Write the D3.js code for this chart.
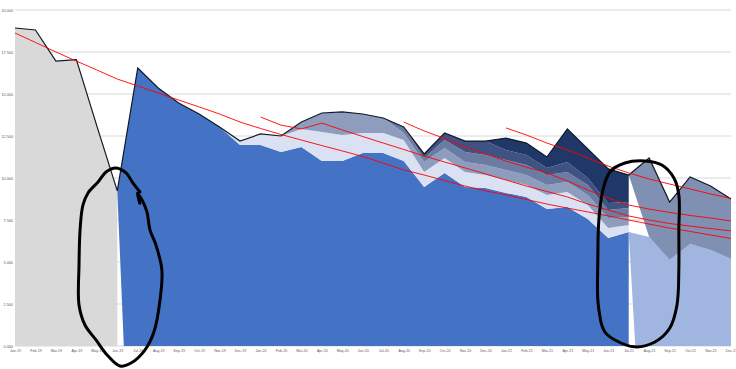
<!DOCTYPE html>
<html><head><meta charset="utf-8">
<script src="https://cdn.jsdelivr.net/npm/d3@7/dist/d3.min.js"></script>
<style>html,body{margin:0;padding:0;background:#fff}svg{display:block}</style>
</head><body>
<svg id="c" width="736" height="369"></svg>
<script>
const months = ["Jan-19","Feb-19","Mar-19","Apr-19","May-19","Jun-19","Jul-19","Aug-19","Sep-19","Oct-19","Nov-19","Dec-19",
"Jan-20","Feb-20","Mar-20","Apr-20","May-20","Jun-20","Jul-20","Aug-20","Sep-20","Oct-20","Nov-20","Dec-20",
"Jan-21","Feb-21","Mar-21","Apr-21","May-21","Jun-21","Jul-21","Aug-21","Sep-21","Oct-21","Nov-21","Dec-21"];
const yTicks = [0,2.5,5,7.5,10,12.5,15,17.5,20];
const yTickLabels = ["0.000","2.500","5.000","7.500","10.000","12.500","15.000","17.500","20.000"];

// legacy period (gray), months 0..5
const legacy = [18.93,18.81,16.96,17.05,13.1,9.23];
// cohort layers, months 6..30 (index offset 6)
const cohort1 = [16.55,15.36,14.46,13.81,13.04,11.96,11.96,11.55,11.85,11.01,11.01,11.49,11.49,11.01,9.46,10.3,9.46,9.40,9.11,8.87,8.15,8.27,7.56,6.43,6.79];
const cohort2 = [0,0,0,0,0,0.24,0.66,0.95,1.07,1.73,1.55,1.19,1.19,1.25,0.9,0.89,0.9,0.78,0.77,0.71,0.84,0.9,0.83,0.59,0.41];
const cohort3 = [0,0,0,0,0,0,0,0,0.41,1.13,1.37,1.13,0.89,0.42,0.59,0.6,0.59,0.59,0.6,0.6,0.59,0.59,0.6,0.6,0.48];
const cohort4 = [0,0,0,0,0,0,0,0,0,0,0,0,0,0.36,0.24,0.47,0.6,0.6,0.59,0.59,0.6,0.6,0.59,0.48,0.53];
const cohort5 = [0,0,0,0,0,0,0,0,0,0,0,0,0,0,0.24,0.42,0.65,0.83,0.6,0.6,0.42,0.59,0.42,0.41,0.36];
const cohort6 = [0,0,0,0,0,0,0,0,0,0,0,0,0,0,0,0,0,0,0.71,0.71,0.65,1.97,1.73,2.03,1.61];
const cohortStart = [6,10,13,18,19,23];
// outlook period, months 30..35
const outlookBase = [6.79,6.49,5.12,6.07,5.71,5.18];
const outlookTop = [0,4.70,3.45,3.99,3.81,3.57];

// trend lines
const trend1 = [18.63,18.07,17.5,16.96,16.43,15.89,15.48,15.06,14.64,14.23,13.81,13.33,12.95,12.59,12.26,11.93,11.61,11.28,10.89,10.48,10.18,9.85,9.52,9.23,8.99,8.72,8.45,8.21,7.98,7.74,7.5,7.26,7.02,6.82,6.61,6.4];
const trend2 = [13.63,13.15,12.92,13.27,12.86,12.47,12.08,11.7,11.31,10.95,10.6,10.24,9.88,9.52,9.2,8.87,8.45,8.1,7.74,7.5,7.29,7.14,6.99,6.85]; // from 12
const trend3 = [13.33,12.8,12.35,11.85,11.43,11.01,10.65,10.3,9.82,9.29,8.81,8.39,8.15,7.95,7.77,7.62,7.44]; // from 19
const trend4 = [12.98,12.56,12.08,11.67,11.19,10.71,10.3,9.94,9.64,9.35,9.05,8.78]; // from 24

// hand-drawn annotation loops (month index, value)
const loop1 = [[6.11,9.17],[5.77,9.70],[5.43,10.30],[4.94,10.60],[4.45,10.36],[4.06,9.76],[3.57,9.11],[3.32,8.39],[3.18,6.90],[3.13,4.82],[3.13,2.44],[3.42,1.25],[3.96,0.36],[4.55,-0.60],[5.13,-1.19],[5.67,-1.01],[6.35,-0.24],[6.79,0.83],[7.09,2.74],[7.18,4.52],[6.89,6.01],[6.60,6.90],[6.45,7.98],[6.21,8.69],[5.98,9.1],[6.1,8.5]];
const loop2 = [[28.64,1.43],[28.49,2.74],[28.49,5.12],[28.54,7.5],[28.74,9.29],[29.08,10.36],[29.81,10.89],[30.79,11.01],[31.62,10.77],[32.21,10.0],[32.45,8.99],[32.45,6.90],[32.45,4.52],[32.36,2.44],[32.01,1.07],[31.28,0.24],[30.3,-0.05],[29.33,0.36],[28.84,0.83],[28.64,1.43]];

const colors = ["#4472c4","#d9e1f2","#8e9dbd","#6a7ca3","#3e5383","#1f3868"];
const gap = 0.32; // bottom offset of the period boundaries (in month units)

const svg = d3.select("#c");
const L=15, R=731, T=10, B=346;
const x = d3.scalePoint().domain(months).range([L,R]);
const xi = d3.scaleLinear().domain([0,35]).range([L,R]);
const y = d3.scaleLinear().domain([0,20]).range([B,T]);
const font = "Liberation Sans, Arial, sans-serif";

// grid
svg.append("g").selectAll("line").data(yTicks).join("line")
  .attr("x1",L).attr("x2",R).attr("y1",d=>y(d)).attr("y2",d=>y(d))
  .attr("stroke","#d9d9d9").attr("stroke-width",1);
svg.append("g").selectAll("text").data(yTicks).join("text")
  .attr("x",13).attr("y",d=>y(d)+1.5).attr("text-anchor","end")
  .attr("font-family",font).attr("font-size",3.8).attr("fill","#595959")
  .text((d,i)=>yTickLabels[i]);
const xAxis = svg.append("g").attr("transform",`translate(0,${B})`)
  .call(d3.axisBottom(x).tickSize(0).tickPadding(3.5));
xAxis.select(".domain").remove();
xAxis.selectAll("text").attr("font-family",font).attr("font-size",3.6).attr("fill","#595959");

// legacy gray area
svg.append("path").datum(legacy.map((v,i)=>({i,v})))
  .attr("d", d3.area().x(d=>xi(d.i)).y0(y(0)).y1(d=>y(d.v)))
  .attr("fill","#d9d9d9");

// cohort stack
const rows = d3.range(6,31).map(i=>{
  const k=i-6; return {i, c1:cohort1[k],c2:cohort2[k],c3:cohort3[k],c4:cohort4[k],c5:cohort5[k],c6:cohort6[k]};
});
const keys=["c1","c2","c3","c4","c5","c6"];
const stacked = d3.stack().keys(keys)(rows);
const total30 = keys.reduce((s,k)=>s+rows[rows.length-1][k],0);
stacked.forEach((layer,li)=>{
  let pts = layer.filter(d=>d.data.i>=cohortStart[li]).map(d=>({i0:d.data.i,i1:d.data.i,y0:d[0],y1:d[1]}));
  if(li===0) pts = [{i0:5+gap,i1:5,y0:0,y1:legacy[5]}].concat(pts);
  svg.append("path").datum(pts)
    .attr("d", d3.area().x0(d=>xi(d.i0)).x1(d=>xi(d.i1)).y0(d=>y(d.y0)).y1(d=>y(d.y1)))
    .attr("fill",colors[li]);
});

// outlook stack
const oBase = outlookBase.map((v,k)=>({i0:k===0?30+gap:30+k,i1:30+k,y0:0,y1:v}));
const oTop = outlookTop.map((v,k)=>k===0?{i0:30,i1:30,y0:total30,y1:total30}:{i0:30+k,i1:30+k,y0:outlookBase[k],y1:outlookBase[k]+v});
[[oBase,"#a0b5e0"],[oTop,"#8090b2"]].forEach(([pts,c])=>{
  svg.append("path").datum(pts)
    .attr("d", d3.area().x0(d=>xi(d.i0)).x1(d=>xi(d.i1)).y0(d=>y(d.y0)).y1(d=>y(d.y1)))
    .attr("fill",c);
});

// total line
const totals = legacy.map((v,i)=>({i,v}))
  .concat(rows.map(r=>({i:r.i, v:keys.reduce((s,k)=>s+r[k],0)})))
  .concat(outlookTop.slice(1).map((v,k)=>({i:31+k, v:v+outlookBase[k+1]})));
svg.append("path").datum(totals)
  .attr("d", d3.line().x(d=>xi(d.i)).y(d=>y(d.v)))
  .attr("fill","none").attr("stroke","#111827").attr("stroke-width",1.2);

// trend lines
[[trend1,0],[trend2,12],[trend3,19],[trend4,24]].forEach(([arr,off])=>{
  svg.append("path").datum(arr.map((v,k)=>({i:k+off,v})))
    .attr("d", d3.line().x(d=>xi(d.i)).y(d=>y(d.v)))
    .attr("fill","none").attr("stroke","#ff0000").attr("stroke-width",0.9);
});

// hand-drawn loops
[loop1,loop2].forEach(lp=>{
  svg.append("path").datum(lp)
    .attr("d", d3.line().x(d=>xi(d[0])).y(d=>y(d[1])).curve(d3.curveCatmullRom))
    .attr("fill","none").attr("stroke","#000").attr("stroke-width",3).attr("stroke-linecap","round").attr("stroke-linejoin","round");
});
</script>
</body></html>
